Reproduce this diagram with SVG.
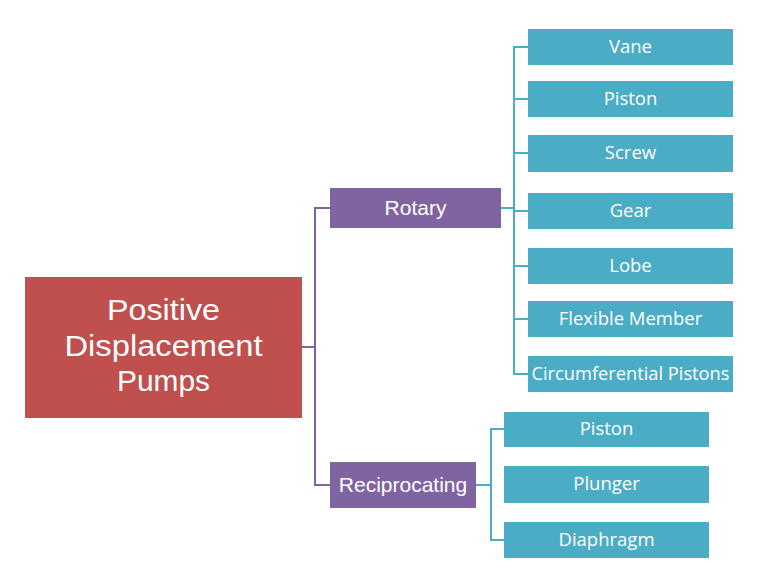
<svg xmlns="http://www.w3.org/2000/svg" width="768" height="576" viewBox="0 0 768 576">
<style>
.root{fill:#C0504D}
.mid{fill:#8064A2}
.leaf{fill:#4BACC6}
.t1{font-family:"Liberation Sans",Arial,sans-serif;fill:#fff;text-anchor:middle}
.t2{font-family:"Open Sans","Noto Sans",sans-serif;fill:#fff;text-anchor:middle;font-size:18.5px}
.cp{fill:none;stroke:#8064A2;stroke-width:2}
.ct{fill:none;stroke:#4BACC6;stroke-width:2}
</style>
<rect width="768" height="576" fill="#fff"/>
<g id="connectors">
<path class="cp" d="M302 347H315M330 208H315V485H330"/>
<path class="ct" d="M501 208H514M528 47H514V374H528M514 99H528M514 153H528M514 211H528M514 266H528M514 319H528"/>
<path class="ct" d="M476 485H491M504 429H491V540H504"/>
</g>
<g id="root">
<rect class="root" x="25" y="277" width="277" height="141"/>
<text class="t1" font-size="30" x="163.5" y="320" textLength="113" lengthAdjust="spacingAndGlyphs">Positive</text>
<text class="t1" font-size="30" x="163.5" y="356" textLength="198" lengthAdjust="spacingAndGlyphs">Displacement</text>
<text class="t1" font-size="30" x="163.5" y="391" textLength="93" lengthAdjust="spacingAndGlyphs">Pumps</text>
</g>
<g id="rotary">
<rect class="mid" x="330" y="188" width="171" height="40"/>
<text class="t1" font-size="21" x="415.5" y="215">Rotary</text>
</g>
<g id="reciprocating">
<rect class="mid" x="330" y="462" width="146" height="46"/>
<text class="t1" font-size="21" x="403" y="492">Reciprocating</text>
</g>
<g id="vane"><rect class="leaf" x="528" y="29" width="205" height="36"/><text class="t2" x="630.5" y="53">Vane</text></g>
<g id="piston-r"><rect class="leaf" x="528" y="81" width="205" height="36"/><text class="t2" x="630.5" y="105">Piston</text></g>
<g id="screw"><rect class="leaf" x="528" y="135" width="205" height="37"/><text class="t2" x="630.5" y="159">Screw</text></g>
<g id="gear"><rect class="leaf" x="528" y="193" width="205" height="36"/><text class="t2" x="630.5" y="217">Gear</text></g>
<g id="lobe"><rect class="leaf" x="528" y="248" width="205" height="36"/><text class="t2" x="630.5" y="272">Lobe</text></g>
<g id="flexible"><rect class="leaf" x="528" y="301" width="205" height="36"/><text class="t2" x="630.5" y="325">Flexible Member</text></g>
<g id="circumferential"><rect class="leaf" x="528" y="356" width="205" height="36"/><text class="t2" x="630.5" y="380" textLength="198" lengthAdjust="spacingAndGlyphs">Circumferential Pistons</text></g>
<g id="piston-p"><rect class="leaf" x="504" y="412" width="205" height="35"/><text class="t2" x="606.5" y="435">Piston</text></g>
<g id="plunger"><rect class="leaf" x="504" y="466" width="205" height="37"/><text class="t2" x="606.5" y="490">Plunger</text></g>
<g id="diaphragm"><rect class="leaf" x="504" y="522" width="205" height="36"/><text class="t2" x="606.5" y="546">Diaphragm</text></g>
</svg>
